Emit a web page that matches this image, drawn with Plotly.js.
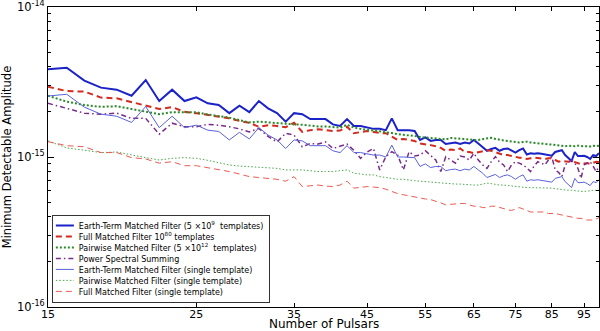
<!DOCTYPE html>
<html>
<head>
<meta charset="utf-8">
<script src="https://cdn.plot.ly/plotly-3.0.1.min.js"></script>
<style>
    html, body { margin: 0; padding: 0; background: #fff; }
    #chart { width: 600px; height: 331px; }
</style>
</head>
<body>
<div id="chart"></div>
<script>
// Number of pulsars, 15 .. 100
const pulsars = [];
for (let n = 15; n <= 100; n++) pulsars.push(n);

// Amplitudes in units of 1e-15
const earthTermMany = [
    3.84, 3.94, 3.23, 2.90, 2.81, 2.56, 3.26, 2.36, 2.81, 2.36,
    2.50, 2.28, 2.22, 1.96, 2.20, 1.99, 2.36, 2.11, 1.96, 1.72,
    1.96, 1.93, 1.79, 1.79, 1.79, 1.65, 1.61, 1.79, 1.61, 1.61,
    1.58, 1.54, 1.54, 1.51, 1.81, 1.51, 1.51, 1.51, 1.49, 1.30,
    1.35, 1.28, 1.30, 1.30, 1.22, 1.24, 1.25, 1.22, 1.25, 1.23,
    1.30, 1.23, 1.17, 1.10, 1.13, 1.15, 1.10, 1.13, 1.14, 1.11,
    1.07, 1.11, 1.14, 1.04, 1.06, 1.05, 1.06, 1.05, 1.04, 1.03,
    1.02, 1.08, 1.10, 1.11, 1.03, 0.985, 0.94, 1.08, 1.015, 1.015,
    1.02, 1.00, 0.97, 1.03, 1.015, 1.06
];
const fullMany = [
    2.94, 2.75, 2.73, 2.49, 2.46, 2.32, 2.22, 2.09, 2.15, 2.00,
    1.96, 1.91, 1.85, 1.81, 1.74, 1.69, 1.59, 1.63, 1.61, 1.58,
    1.69, 1.47, 1.51, 1.53, 1.51, 1.49, 1.50, 1.59, 1.44, 1.46,
    1.49, 1.47, 1.445, 1.44, 1.36, 1.30, 1.32, 1.30, 1.28, 1.23,
    1.22, 1.20, 1.18, 1.15, 1.10, 1.12, 1.11, 1.14, 1.08, 1.08,
    1.06, 1.08, 1.10, 1.11, 1.10, 1.08, 1.06, 1.03, 1.03, 1.015,
    1.005, 0.99, 0.985, 0.97, 0.98, 0.99, 0.985, 0.98, 0.97, 0.98,
    0.98, 0.955, 0.93, 0.94, 0.935, 0.93, 0.94, 0.925, 0.91, 0.895,
    0.905, 0.91, 0.90, 0.92, 0.93, 0.925
];
const pairwiseMany = [
    2.56, 2.34, 2.22, 2.16, 2.18, 2.09, 1.99, 1.93, 1.99, 1.99,
    1.99, 1.92, 1.88, 1.83, 1.76, 1.70, 1.72, 1.70, 1.67, 1.66,
    1.65, 1.64, 1.62, 1.60, 1.60, 1.58, 1.57, 1.64, 1.57, 1.54,
    1.52, 1.50, 1.49, 1.47, 1.445, 1.42, 1.41, 1.40, 1.38, 1.36,
    1.35, 1.33, 1.32, 1.31, 1.31, 1.34, 1.33, 1.32, 1.31, 1.30,
    1.30, 1.30, 1.32, 1.33, 1.345, 1.32, 1.30, 1.29, 1.28, 1.27,
    1.26, 1.25, 1.26, 1.265, 1.25, 1.24, 1.235, 1.23, 1.22, 1.215,
    1.21, 1.20, 1.19, 1.19, 1.18, 1.19, 1.18, 1.18, 1.19, 1.18,
    1.18, 1.18, 1.175, 1.19, 1.18, 1.19
];
const powerSpectral = [
    2.28, 2.11, 1.96, 1.93, 1.96, 1.81, 1.81, 1.42, 1.68, 1.59,
    1.59, 1.65, 1.63, 1.59, 1.54, 1.47, 1.55, 1.37, 1.26, 1.44,
    1.40, 1.17, 1.23, 1.22, 1.26, 1.14, 1.18, 1.22, 1.11, 0.98,
    1.08, 1.14, 0.82, 1.005, 1.085, 1.03, 0.82, 1.085, 1.015, 1.03,
    1.10, 1.03, 0.955, 0.80, 1.005, 0.955, 0.91, 1.015, 1.00, 0.955,
    1.06, 0.955, 0.885, 0.84, 0.93, 1.005, 0.925, 0.885, 0.80, 0.885,
    0.93, 0.91, 0.885, 0.845, 0.80, 0.87, 0.93, 0.91, 0.885, 0.955,
    1.005, 0.82, 0.79, 0.74, 0.885, 0.925, 0.955, 0.91, 0.84, 0.72,
    0.885, 0.91, 0.93, 0.87, 0.80, 0.86
];
const earthTermSingle = [
    2.55, 2.62, 2.15, 1.93, 1.87, 1.70, 2.17, 1.57, 1.87, 1.57,
    1.63, 1.51, 1.48, 1.30, 1.46, 1.32, 1.57, 1.40, 1.30, 1.14,
    1.30, 1.28, 1.19, 1.19, 1.19, 1.10, 1.07, 1.19, 1.07, 1.07,
    1.05, 1.03, 1.03, 1.00, 1.20, 1.00, 1.00, 1.00, 0.99, 0.865,
    0.90, 0.85, 0.865, 0.865, 0.81, 0.825, 0.83, 0.81, 0.83, 0.82,
    0.865, 0.82, 0.78, 0.73, 0.75, 0.765, 0.73, 0.75, 0.76, 0.74,
    0.71, 0.74, 0.76, 0.69, 0.705, 0.70, 0.705, 0.70, 0.69, 0.685,
    0.68, 0.72, 0.73, 0.74, 0.685, 0.655, 0.625, 0.72, 0.675, 0.675,
    0.68, 0.665, 0.645, 0.685, 0.675, 0.705
];
const pairwiseSingle = [
    1.28, 1.15, 1.11, 1.07, 1.08, 1.03, 0.99, 0.955, 0.98, 0.99,
    0.98, 0.95, 0.92, 0.885, 0.87, 0.86, 0.85, 0.845, 0.84, 0.82,
    0.82, 0.82, 0.81, 0.80, 0.80, 0.80, 0.81, 0.82, 0.78, 0.77,
    0.76, 0.76, 0.74, 0.73, 0.72, 0.71, 0.71, 0.70, 0.695, 0.69,
    0.685, 0.68, 0.675, 0.67, 0.67, 0.665, 0.66, 0.66, 0.655, 0.655,
    0.65, 0.65, 0.66, 0.67, 0.665, 0.655, 0.65, 0.65, 0.645, 0.64,
    0.635, 0.63, 0.63, 0.625, 0.625, 0.625, 0.625, 0.625, 0.62, 0.62,
    0.62, 0.615, 0.61, 0.605, 0.60, 0.60, 0.60, 0.595, 0.595, 0.59,
    0.59, 0.59, 0.595, 0.60, 0.60, 0.60
];
const fullSingle = [
    1.265, 1.19, 1.17, 1.07, 1.07, 0.99, 0.97, 0.91, 0.93, 0.875,
    0.875, 0.85, 0.825, 0.80, 0.77, 0.74, 0.73, 0.72, 0.71, 0.69,
    0.74, 0.635, 0.64, 0.65, 0.64, 0.635, 0.65, 0.69, 0.62, 0.625,
    0.635, 0.63, 0.625, 0.61, 0.59, 0.57, 0.56, 0.55, 0.545, 0.53,
    0.525, 0.52, 0.51, 0.495, 0.48, 0.485, 0.485, 0.49, 0.49, 0.48,
    0.47, 0.47, 0.46, 0.46, 0.47, 0.47, 0.46, 0.455, 0.445, 0.44,
    0.45, 0.46, 0.45, 0.44, 0.43, 0.43, 0.43, 0.435, 0.43, 0.42,
    0.42, 0.42, 0.415, 0.41, 0.405, 0.40, 0.40, 0.395, 0.39, 0.39,
    0.385, 0.38, 0.38, 0.38, 0.385, 0.395
];

const xTicks = [15, 25, 35, 45, 55, 65, 75, 85, 95];
const yTicks = [1e-16, 1e-15, 1e-14];
const yTickText = ['10<sup>-16</sup>', '10<sup>-15</sup>', '10<sup>-14</sup>'];

const UNIT = 1e-15;
const FONT = 'DejaVu Sans, Bitstream Vera Sans, sans-serif';

/**
 * Build one line trace from a series in units of 1e-15
 */
function makeTrace(name, values, color, width, dash) {
    return {
        x: pulsars,
        y: values.map(v => v * UNIT),
        name: name,
        type: 'scatter',
        mode: 'lines',
        line: { color: color, width: width, dash: dash }
    };
}

const traces = [
    makeTrace('Earth-Term Matched Filter (5 ×10<sup>9</sup>  templates)', earthTermMany, '#1a22c8', 2, 'solid'),
    makeTrace('Full Matched Filter 10<sup>80</sup> templates', fullMany, '#d42a1e', 2, '6px,4px'),
    makeTrace('Pairwise Matched Filter (5 ×10<sup>12</sup>  templates)', pairwiseMany, '#2a8a2a', 2, '2px,2px'),
    makeTrace('Power Spectral Summing', powerSpectral, '#7a2a8a', 1.5, '5px,3px,1.5px,3px'),
    makeTrace('Earth-Term Matched Filter (single template)', earthTermSingle, '#5a62dc', 1, 'solid'),
    makeTrace('Pairwise Matched Filter (single template)', pairwiseSingle, '#4aa84a', 1, '1.5px,2px'),
    makeTrace('Full Matched Filter (single template)', fullSingle, '#ec5a52', 1, '6px,4px')
];

// minor ticks on the log y axis: 2..9 x 10^n
const yMinor = [];
[1e-16, 1e-15].forEach(d => {
    for (let k = 2; k <= 9; k++) yMinor.push(k * d);
});

const layout = {
    width: 600,
    height: 331,
    margin: { l: 48, r: 1, t: 7, b: 24, autoexpand: false },
    paper_bgcolor: '#fff',
    plot_bgcolor: '#fff',
    font: { family: FONT, size: 11, color: '#000' },
    showlegend: true,
    legend: {
        x: 0.007, y: 0.307,
        xanchor: 'left', yanchor: 'top',
        bgcolor: '#fff',
        bordercolor: '#333',
        borderwidth: 1,
        font: { family: FONT, size: 8, color: '#000' },
        tracegroupgap: 0,
        itemwidth: 30
    },
    xaxis: {
        type: 'log',
        range: [Math.log10(15), Math.log10(100)],
        tickmode: 'array',
        tickvals: xTicks,
        ticktext: xTicks.map(String),
        ticks: 'inside',
        ticklen: 4,
        tickcolor: '#000',
        ticklabelstandoff: -3,
        showline: true,
        linecolor: '#000',
        linewidth: 1,
        mirror: 'ticks',
        showgrid: false,
        zeroline: false,
        tickfont: { size: 11 }
    },
    yaxis: {
        type: 'log',
        range: [-16, -14],
        tickmode: 'array',
        tickvals: yTicks,
        ticktext: yTickText,
        ticklabeloverflow: 'allow',
        ticks: 'inside',
        ticklen: 6,
        tickcolor: '#000',
        showline: true,
        linecolor: '#000',
        linewidth: 1,
        mirror: 'ticks',
        showgrid: false,
        zeroline: false,
        tickfont: { size: 11.5 },
        minor: {
            tickmode: 'array',
            tickvals: yMinor,
            ticks: 'inside',
            ticklen: 3,
            tickcolor: '#000',
            showgrid: false
        },
        title: { text: 'Minimum Detectable Amplitude', font: { size: 11.5 }, standoff: 2 }
    },
    annotations: [{
        text: 'Number of Pulsars',
        xref: 'paper', yref: 'paper',
        x: 0.5, y: 0,
        xanchor: 'center', yanchor: 'bottom',
        yshift: -26,
        showarrow: false,
        font: { size: 12 }
    }]
};

/**
 * Plotly legend rows are at least 19px tall; squeeze them to the
 * compact matplotlib look of the original
 */
function tightenLegend(gd, rowHeight) {
    const legend = gd.querySelector('g.legend');
    if (!legend) return;
    const rows = legend.querySelectorAll('g.traces');
    let maxWidth = 0;
    rows.forEach((row, i) => {
        const m = /translate\(([^,\)]+)/.exec(row.getAttribute('transform') || '');
        const x = m ? m[1] : 1;
        row.setAttribute('transform', `translate(${x},${5 + rowHeight / 2 + i * rowHeight})`);
        row.querySelectorAll('.legendlines path').forEach(p => p.setAttribute('d', 'M3,0h18'));
        const text = row.querySelector('text.legendtext');
        if (text) {
            text.setAttribute('x', 26);
            maxWidth = Math.max(maxWidth, text.getBBox().width);
        }
    });
    const bg = legend.querySelector('rect.bg');
    if (bg) {
        bg.setAttribute('height', 10 + rows.length * rowHeight);
        bg.setAttribute('width', Math.ceil(26 + maxWidth + 6));
    }
}

Plotly.newPlot('chart', traces, layout, { displayModeBar: false, staticPlot: true })
    .then(gd => tightenLegend(gd, 11));
</script>
</body>
</html>
